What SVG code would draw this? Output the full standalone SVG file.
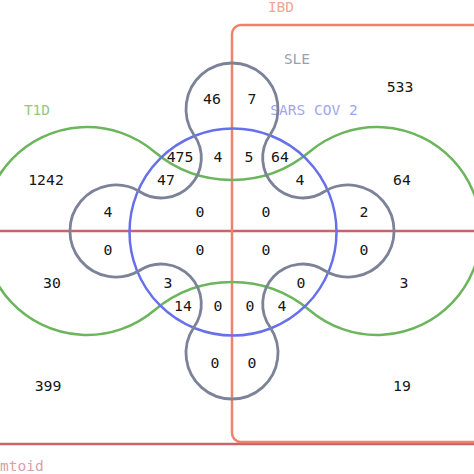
<svg xmlns="http://www.w3.org/2000/svg" width="474" height="474" viewBox="0 0 474 474">
<style>
.num{font-family:"DejaVu Sans Mono","Liberation Mono",monospace;font-size:14.8px;fill:#151515;text-anchor:middle}
.lbl{font-family:"DejaVu Sans Mono","Liberation Mono",monospace;font-size:14.5px;text-anchor:middle}
.shape{fill:none}
</style>
<rect width="474" height="474" fill="#ffffff"/>
<g id="autoimmunoid">
<rect class="shape" x="-20" y="231" width="520" height="213" stroke="#c8646a" stroke-width="2.5"/>
<text class="lbl" x="0" y="471" style="text-anchor:start;fill:#d9a0a6">mtoid</text>
</g>
<g id="ibd">
<rect class="shape" x="232" y="25" width="270" height="417" rx="9" stroke="#f0826c" stroke-width="2.5"/>
<text class="lbl" x="281" y="12" style="fill:#f3a696">IBD</text>
</g>
<g id="t1d">
<path class="shape" stroke="#6cb55c" stroke-width="2.5" d="M154.1,151.5 A120.8,120.8 0 0 0 309.9,151.5 A104,104 0 1 1 309.9,310.5 A120.8,120.8 0 0 0 154.1,310.5 A104,104 0 1 1 154.1,151.5 Z"/>
<text class="lbl" x="37" y="115" style="fill:#92c884">T1D</text>
</g>
<g id="sars">
<circle class="shape" cx="233" cy="232" r="103.5" stroke="#6670ea" stroke-width="2.5"/>
<text class="lbl" x="314" y="115" style="fill:#a0a6ec">SARS COV 2</text>
</g>
<g id="sle">
<path class="shape" stroke="#7c8399" stroke-width="2.8" d="M193.7,134.5 A46,46 0 1 1 270.3,134.5 A40,40 0 0 0 324.5,191.5 A46,46 0 1 1 324.5,270.5 A40,40 0 0 0 270.3,327.5 A46,46 0 1 1 193.7,327.5 A40,40 0 0 0 139.5,270.5 A46,46 0 1 1 139.5,191.5 A40,40 0 0 0 193.7,134.5 Z"/>
<text class="lbl" x="297" y="64" style="fill:#9aa0b4">SLE</text>
</g>
<g id="counts">
<text class="num" x="212" y="104">46</text>
<text class="num" x="252" y="104">7</text>
<text class="num" x="400" y="92">533</text>
<text class="num" x="180" y="162">475</text>
<text class="num" x="218" y="162">4</text>
<text class="num" x="249" y="162">5</text>
<text class="num" x="280" y="162">64</text>
<text class="num" x="46" y="185">1242</text>
<text class="num" x="166" y="185">47</text>
<text class="num" x="300" y="185">4</text>
<text class="num" x="402" y="185">64</text>
<text class="num" x="108" y="217">4</text>
<text class="num" x="200" y="217">0</text>
<text class="num" x="266" y="217">0</text>
<text class="num" x="364" y="217">2</text>
<text class="num" x="108" y="255">0</text>
<text class="num" x="200" y="255">0</text>
<text class="num" x="266" y="255">0</text>
<text class="num" x="364" y="255">0</text>
<text class="num" x="52" y="288">30</text>
<text class="num" x="168" y="288">3</text>
<text class="num" x="301" y="288">0</text>
<text class="num" x="404" y="288">3</text>
<text class="num" x="183" y="311">14</text>
<text class="num" x="218" y="311">0</text>
<text class="num" x="250" y="311">0</text>
<text class="num" x="282" y="311">4</text>
<text class="num" x="215" y="368">0</text>
<text class="num" x="252" y="368">0</text>
<text class="num" x="48" y="391">399</text>
<text class="num" x="402" y="391">19</text>
</g>
</svg>
